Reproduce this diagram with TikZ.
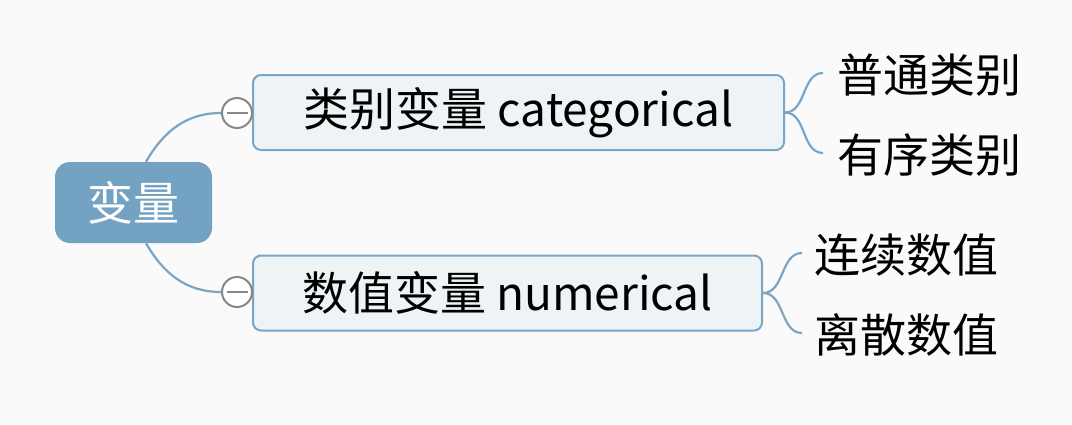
\documentclass[tikz,border=0pt]{standalone}
\usepackage{fontspec}
\setmainfont{Noto Sans CJK SC}
\usepackage{tikz}
\usetikzlibrary{shapes, positioning}
\definecolor{rootblue}{HTML}{74A2C2}
\definecolor{edgeblue}{HTML}{7AA5C5}
\definecolor{boxfill}{HTML}{EEF3F6}
\definecolor{foldgray}{HTML}{888888}
\definecolor{bgcol}{HTML}{FAFAFA}
\tikzstyle{rootnode} = [rectangle, rounded corners=15pt, fill=rootblue, text=white, minimum width=157pt, minimum height=81pt, font=\fontsize{46}{52}\selectfont]
\tikzstyle{topic} = [rectangle, rounded corners=8pt, draw=edgeblue, line width=2pt, fill=boxfill, minimum height=75pt, font=\fontsize{46}{52}\selectfont]
\tikzstyle{leaf} = [inner sep=0pt, anchor=west, font=\fontsize{46}{52}\selectfont]
\tikzstyle{fold} = [circle, draw=foldgray, fill=white, line width=2pt, minimum size=30pt, inner sep=0pt]
\tikzstyle{line} = [draw=edgeblue, line width=2.2pt]

\begin{document}
\begin{tikzpicture}[x=1pt, y=-1pt]
			\fill [bgcol] (0,0) rectangle (1072,424);
			\useasboundingbox (0,0) rectangle (1072,424);

			\node [rootnode] (root) at (133.5, 202.5) {变量};
			\node [topic, minimum width=531pt] (cat) at (518.5, 112.5) {类别变量 categorical};
			\node [topic, minimum width=509pt] (num) at (507.5, 293) {数值变量 numerical};
			\node [fold] (catfold) at (237, 113) {};
			\node [fold] (numfold) at (237, 292) {};
			\draw [foldgray, line width=2pt] ([xshift=-10.5pt]catfold.center) -- ([xshift=10.5pt]catfold.center);
			\draw [foldgray, line width=2pt] ([xshift=-10.5pt]numfold.center) -- ([xshift=10.5pt]numfold.center);

			\node [leaf] (plain) at (837, 75) {普通类别};
			\node [leaf] (ordered) at (837, 155) {有序类别};
			\node [leaf] (cont) at (814, 255) {连续数值};
			\node [leaf] (disc) at (814, 335) {离散数值};

			\path [line] ([xshift=12.5pt]root.north) to[out=60, in=180] (catfold.west);
			\path [line] ([xshift=12.5pt]root.south) to[out=-60, in=180] (numfold.west);
			\path [line] (cat.east) to[out=0, in=180] ([xshift=-14pt, yshift=2pt]plain.west);
			\path [line] (cat.east) to[out=0, in=180] ([xshift=-14pt, yshift=2pt]ordered.west);
			\path [line] (num.east) to[out=0, in=180] ([xshift=-12pt, yshift=2pt]cont.west);
			\path [line] (num.east) to[out=0, in=180] ([xshift=-12pt, yshift=2pt]disc.west);
		\end{tikzpicture}
\end{document}
